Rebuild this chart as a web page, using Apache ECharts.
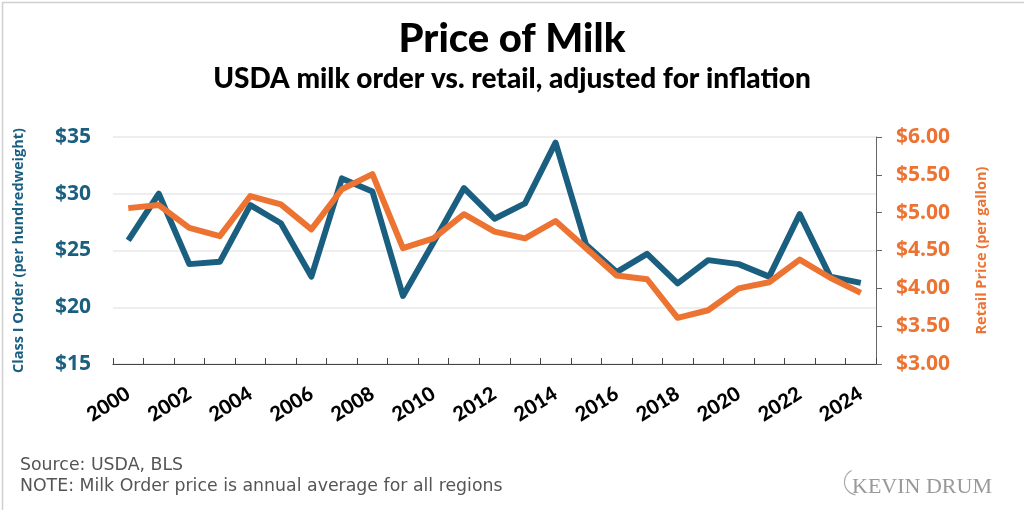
<!DOCTYPE html>
<html><head><meta charset="utf-8">
<script src="https://cdn.jsdelivr.net/npm/echarts@6/dist/echarts.min.js"></script>
<style>html,body{margin:0;padding:0;background:#fff}#c{width:1024px;height:510px}</style>
</head><body><div id="c"></div>
<script>
const years = ['2000','2001','2002','2003','2004','2005','2006','2007','2008','2009','2010','2011','2012','2013','2014','2015','2016','2017','2018','2019','2020','2021','2022','2023','2024'];
const classIOrder = [25.9,30.0,23.8,24.0,29.0,27.4,22.7,31.35,30.2,21.0,25.7,30.5,27.8,29.15,34.5,25.5,23.1,24.7,22.1,24.15,23.8,22.7,28.2,22.7,22.15];
const retailPrice = [5.06,5.10,4.80,4.69,5.22,5.11,4.78,5.31,5.51,4.53,4.66,4.98,4.75,4.66,4.89,4.53,4.17,4.12,3.61,3.71,4.00,4.08,4.38,4.14,3.94];
const leftTicks = {min:15,max:35,interval:5};
const rightTicks = {min:3,max:6,interval:0.5};

const BLUE = '#1b5f80', ORANGE = '#ec7331';
const chart = echarts.init(document.getElementById('c'), null, {renderer:'canvas'});
chart.setOption({
  animation:false,
  backgroundColor:'#fff',
  title:[
    {text:'Price of Milk', left:'center', top:14, textStyle:{fontFamily:'Lato', fontWeight:900, fontSize:40, color:'#000'}},
    {text:'USDA milk order vs. retail, adjusted for inflation', left:'center', top:60, textStyle:{fontFamily:'Lato', fontWeight:900, fontSize:28, color:'#000'}}
  ],
  grid:{left:113, right:148, top:137, bottom:146, containLabel:false},
  xAxis:{
    type:'category', data:years, boundaryGap:true,
    axisLine:{show:true, lineStyle:{color:'#444', width:1.2}},
    axisTick:{show:true, inside:true, length:6, alignWithLabel:false, interval:0, lineStyle:{color:'#444'}},
    axisLabel:{interval:1, rotate:32, margin:28, color:'#000', fontFamily:'Lato', fontWeight:900, fontSize:20},
    splitLine:{show:false}
  },
  yAxis:[
    {type:'value', position:'left', min:leftTicks.min, max:leftTicks.max, interval:leftTicks.interval,
     name:'Class I Order (per hundredweight)', nameLocation:'middle', nameGap:87,
     nameTextStyle:{color:BLUE, fontFamily:'Open Sans', fontWeight:700, fontSize:14.5},
     axisLine:{show:false}, axisTick:{show:false},
     axisLabel:{formatter:v=>'$'+v, color:BLUE, fontFamily:'Open Sans', fontWeight:700, fontSize:21, margin:22},
     splitLine:{show:true, lineStyle:{color:'#e9e9e9', width:1.5}}},
    {type:'value', position:'right', min:rightTicks.min, max:rightTicks.max, interval:rightTicks.interval,
     name:'Retail Price (per gallon)', nameLocation:'middle', nameGap:98, nameRotate:90,
     nameTextStyle:{color:ORANGE, fontFamily:'Open Sans', fontWeight:700, fontSize:14.5},
     axisLine:{show:true, lineStyle:{color:'#666', width:1}},
     axisTick:{show:true, length:6, lineStyle:{color:'#666'}},
     axisLabel:{formatter:v=>'$'+v.toFixed(2), color:ORANGE, fontFamily:'Open Sans', fontWeight:700, fontSize:21, margin:20},
     splitLine:{show:false}}
  ],
  series:[
    {name:'Class I Order', type:'line', yAxisIndex:0, data:classIOrder, showSymbol:false, symbol:'none',
     lineStyle:{color:BLUE, width:6, join:'round'}, itemStyle:{color:BLUE}},
    {name:'Retail', type:'line', yAxisIndex:1, data:retailPrice, showSymbol:false, symbol:'none',
     lineStyle:{color:ORANGE, width:6, join:'round'}, itemStyle:{color:ORANGE}}
  ],
  graphic:[
    {type:'rect', left:0, top:0, shape:{width:1023, height:509}, style:{fill:'none', stroke:'#d0d0d0', lineWidth:1.5}, silent:true},
    {type:'text', x:20, y:457, scaleX:1.02, style:{text:'Source: USDA, BLS', fill:'#555', font:'17px "DejaVu Sans", sans-serif'}},
    {type:'text', x:20, y:478, scaleX:1.02, style:{text:'NOTE: Milk Order price is annual average for all regions', fill:'#555', font:'17px "DejaVu Sans", sans-serif'}},
    {type:'text', left:852, top:476, style:{text:'KEVIN DRUM', fill:'#999', font:'22px "Liberation Serif", serif'}},
    {type:'arc', left:842, top:468, shape:{cx:12, cy:14, r:13, startAngle:Math.PI*0.55, endAngle:Math.PI*1.35}, style:{stroke:'#aaa', lineWidth:1.2, fill:'none'}}
  ]
});
</script></body></html>
